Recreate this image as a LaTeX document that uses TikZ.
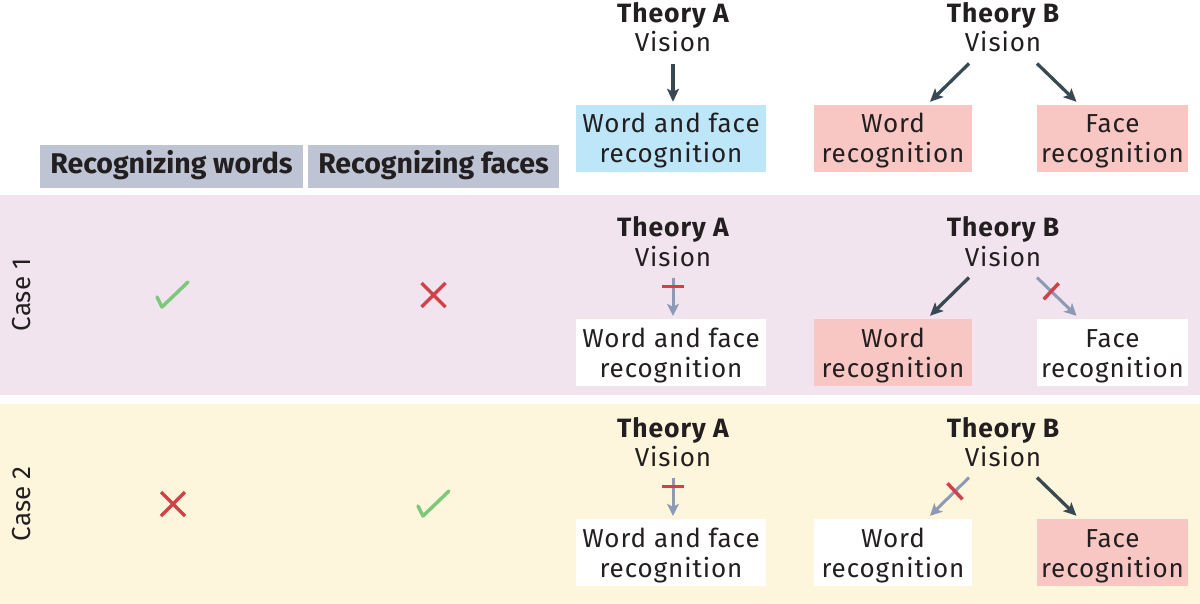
\documentclass[tikz,border=0pt]{standalone}
\usepackage{fontspec}
\setmainfont{Fira Sans}[LetterSpace=3.5]
\newfontfamily\plainfont{Fira Sans}
\usetikzlibrary{arrows.meta}
\definecolor{txt}{HTML}{231F20}
\definecolor{darkarrow}{HTML}{384954}
\definecolor{grayarrow}{HTML}{8C9AB5}
\definecolor{redmark}{HTML}{D0424A}
\definecolor{greenmark}{HTML}{7DC87A}
\definecolor{bluebox}{HTML}{BDE6F8}
\definecolor{pinkbox}{HTML}{F8C6C3}
\definecolor{hdrgray}{HTML}{BEC4D3}
\definecolor{bandone}{HTML}{F2E4EF}
\definecolor{bandtwo}{HTML}{FEF6DC}
\begin{document}
\begin{tikzpicture}[x=1pt,y=-1pt,
  font=\fontsize{26}{30}\selectfont, text=txt,
  box/.style={inner sep=0pt, minimum height=67pt, align=center, text height=54pt, text depth=5pt},
  thl/.style={anchor=base, inner sep=0pt, font=\fontsize{26.5}{30}\selectfont\bfseries},
  visl/.style={anchor=base, inner sep=0pt},
  hdr/.style={fill=hdrgray, inner sep=0pt, minimum height=43pt, text height=21pt, text depth=6pt, font=\plainfont\fontsize{28.5}{30}\selectfont\bfseries},
  caselbl/.style={rotate=90, inner sep=0pt, font=\plainfont\fontsize{26}{30}\selectfont},
  darr/.style={draw=darkarrow, line width=3.3pt, -{Stealth[length=13pt,width=12pt,inset=3pt]}},
  garr/.style={draw=grayarrow, line width=3pt, -{Stealth[length=12pt,width=12pt,inset=3pt]}},
  redbar/.style={draw=redmark, line width=3.5pt},
  checkmk/.style={draw=greenmark, line width=3.5pt, line cap=round, line join=round},
  crossmk/.style={draw=redmark, line width=3.5pt},
]
\useasboundingbox (0,0) rectangle (1200,604);
% bands
\fill[bandone] (0,195) rectangle (1200,395);
\fill[bandtwo] (0,404) rectangle (1200,604);

% headers
\node[hdr, minimum width=263pt] (hw) at (171.5,166.5) {Recognizing words};
\node[hdr, minimum width=251pt] (hf) at (433.5,166.5) {Recognizing faces};

% case labels
\node[caselbl] (case1) at (22,295) {Case 1};
\node[caselbl] (case2) at (22,504) {Case 2};

% marks case 1
\draw[checkmk] (157,297) -- (162,307) -- (188,282);
\draw[crossmk] (421.5,283) -- (445.5,307) (445.5,283) -- (421.5,307);
% marks case 2
\draw[crossmk] (161,492) -- (185,516) (185,492) -- (161,516);
\draw[checkmk] (418,506) -- (423,516) -- (449,491);

% top row: theory definitions
\node[thl] (thA0) at (673,23) {Theory A};
\node[visl] (visA0) at (673,52) {Vision};
\node[box, fill=bluebox, minimum width=190pt] (boxA0) at (671,138.5) {Word and face\\recognition};
\draw[darr] ([shift={(0,11)}]visA0.south) -- ([shift={(2,-3)}]boxA0.north);

\node[thl] (thB0) at (1003,23) {Theory B};
\node[visl] (visB0) at (1003,52) {Vision};
\node[box, fill=pinkbox, minimum width=158pt] (wB0) at (893,138.5) {Word\\recognition};
\node[box, fill=pinkbox, minimum width=151pt] (fB0) at (1112.5,138.5) {Face\\recognition};
\draw[darr] ([shift={(-34,11)}]visB0.south) -- ([shift={(37,-3)}]wB0.north);
\draw[darr] ([shift={(34,11)}]visB0.south) -- ([shift={(-36,-3)}]fB0.north);

% case 1
\begin{scope}[shift={(0,214)}]
\node[thl] (thA1) at (673,23) {Theory A};
\node[visl] (visA1) at (673,52) {Vision};
\node[box, fill=white, minimum width=190pt] (boxA1) at (671,138.5) {Word and face\\recognition};
\draw[garr] ([shift={(0,11)}]visA1.south) -- coordinate[pos=0.23] (xa1) ([shift={(2,-3)}]boxA1.north);
\draw[redbar] ([shift={(-11,0)}]xa1) -- ([shift={(11,0)}]xa1);

\node[thl] (thB1) at (1003,23) {Theory B};
\node[visl] (visB1) at (1003,52) {Vision};
\node[box, fill=pinkbox, minimum width=158pt] (wB1) at (893,138.5) {Word\\recognition};
\node[box, fill=white, minimum width=151pt] (fB1) at (1112.5,138.5) {Face\\recognition};
\draw[darr] ([shift={(-34,11)}]visB1.south) -- ([shift={(37,-3)}]wB1.north);
\draw[garr] ([shift={(34,11)}]visB1.south) -- coordinate[pos=0.36] (xb1) ([shift={(-36,-3)}]fB1.north);
\draw[redbar] ([shift={(7.5,-8)}]xb1) -- ([shift={(-7.5,8)}]xb1);
\end{scope}

% case 2
\begin{scope}[shift={(0,414)}]
\node[thl] (thA2) at (673,23) {Theory A};
\node[visl] (visA2) at (673,52) {Vision};
\node[box, fill=white, minimum width=190pt] (boxA2) at (671,138.5) {Word and face\\recognition};
\draw[garr] ([shift={(0,11)}]visA2.south) -- coordinate[pos=0.23] (xa2) ([shift={(2,-3)}]boxA2.north);
\draw[redbar] ([shift={(-11,0)}]xa2) -- ([shift={(11,0)}]xa2);

\node[thl] (thB2) at (1003,23) {Theory B};
\node[visl] (visB2) at (1003,52) {Vision};
\node[box, fill=white, minimum width=158pt] (wB2) at (893,138.5) {Word\\recognition};
\node[box, fill=pinkbox, minimum width=151pt] (fB2) at (1112.5,138.5) {Face\\recognition};
\draw[garr] ([shift={(-34,11)}]visB2.south) -- coordinate[pos=0.36] (xb2) ([shift={(37,-3)}]wB2.north);
\draw[darr] ([shift={(34,11)}]visB2.south) -- ([shift={(-36,-3)}]fB2.north);
\draw[redbar] ([shift={(-7.5,-8)}]xb2) -- ([shift={(7.5,8)}]xb2);
\end{scope}
\end{tikzpicture}
\end{document}
